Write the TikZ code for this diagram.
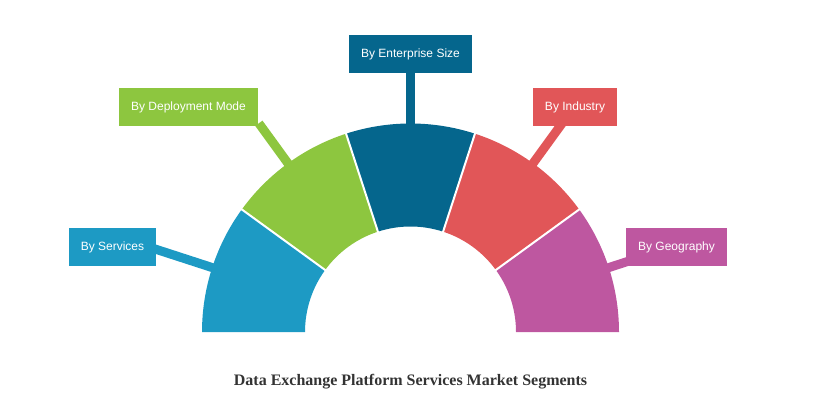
\documentclass[tikz,border=0pt]{standalone}
\usepackage{fontspec}
\setmainfont{Liberation Serif}
\newfontfamily\labelfont{Liberation Sans}
\definecolor{cServ}{HTML}{1D9AC4}
\definecolor{cDep}{HTML}{8DC63F}
\definecolor{cEnt}{HTML}{05668D}
\definecolor{cInd}{HTML}{E15658}
\definecolor{cGeo}{HTML}{BE57A0}
\definecolor{cTitle}{HTML}{333333}
\tikzset{
  segbox/.style={fill=#1, text=white, inner sep=0pt, minimum height=38pt,
    font=\labelfont\fontsize{12}{14}\selectfont},
  leader/.style={draw=#1, line width=9pt},
}
\begin{document}
\begin{tikzpicture}[x=1pt,y=1pt]
\useasboundingbox (0,0) rectangle (821,410);
\begin{scope}[shift={(410.5,78)}]
  % leader endpoints
  \coordinate (sA) at (162:200); \coordinate (sB) at (162:272);
  \coordinate (dA) at (126:200); \coordinate (dB) at (126:258);
  \coordinate (eA) at (90:200);  \coordinate (eB) at (90:262);
  \coordinate (iA) at (54:200);  \coordinate (iB) at (54:258);
  \coordinate (gA) at (18:200);  \coordinate (gB) at (18:272);
  \draw[leader=cServ] (sA) -- (sB);
  \draw[leader=cDep] (dA) -- (dB);
  \draw[leader=cEnt] (eA) -- (eB);
  \draw[leader=cInd] (iA) -- (iB);
  \draw[leader=cGeo] (gA) -- (gB);
  % segments
  \foreach \a/\b/\c in {180/144/cServ,144/108/cDep,108/72/cEnt,72/36/cInd,36/0/cGeo}{
    \fill[\c] (\a:208.5) arc[start angle=\a, end angle=\b, radius=208.5]
      -- (\b:105.5) arc[start angle=\b, end angle=\a, radius=105.5] -- cycle;
  }
  % separators
  \foreach \a in {144,108,72,36}{
    \draw[white, line width=2pt] (\a:104) -- (\a:210);
  }
\end{scope}
% labels
\node[segbox=cServ, minimum width=87pt] (lServ) at (112.5,163) {By Services};
\node[segbox=cDep, minimum width=139pt] (lDep) at (188.5,303) {By Deployment Mode};
\node[segbox=cEnt, minimum width=123pt] (lEnt) at (410.5,356) {By Enterprise Size};
\node[segbox=cInd, minimum width=84pt] (lInd) at (575,303) {By Industry};
\node[segbox=cGeo, minimum width=101pt] (lGeo) at (676.5,163) {By Geography};
% title
\node[text=cTitle, font=\bfseries\fontsize{16}{19}\selectfont] (title) at (410.5,28) {Data Exchange Platform Services Market Segments};
\end{tikzpicture}
\end{document}
